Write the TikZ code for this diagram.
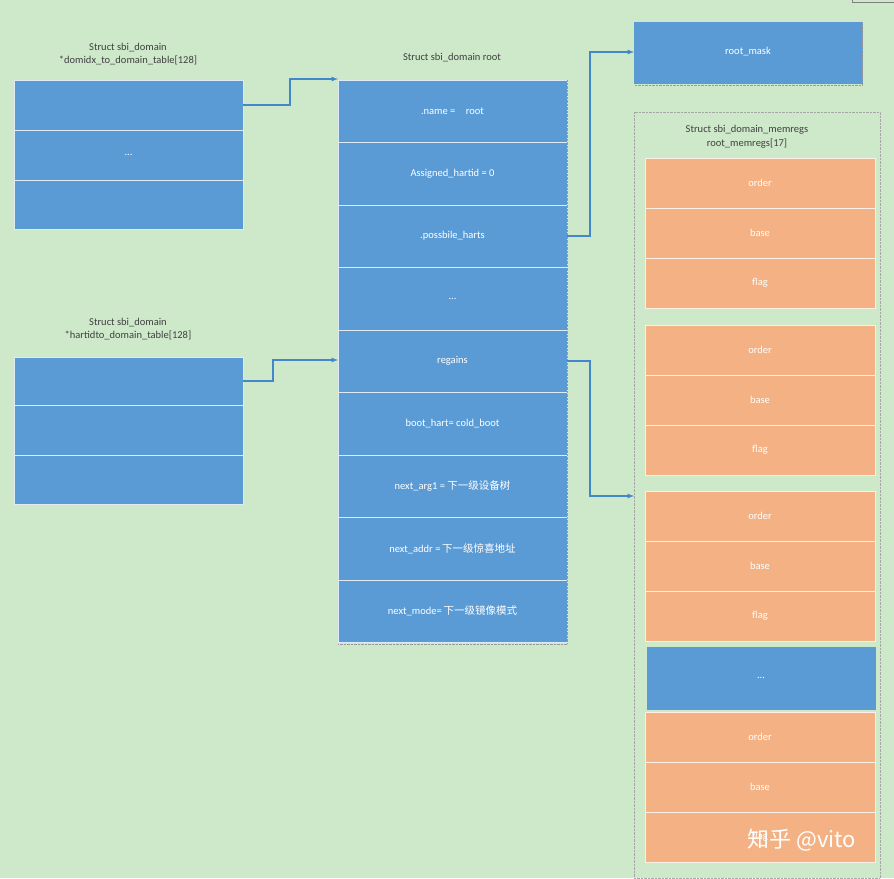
\documentclass[tikz,border=0pt]{standalone}
\usepackage{fontspec}
\setmainfont{Carlito}
\newfontfamily\cjk{Noto Sans CJK SC}
\definecolor{bg}{RGB}{206,232,202}
\definecolor{bl}{RGB}{91,155,213}
\definecolor{org}{RGB}{244,177,131}
\definecolor{arr}{RGB}{68,134,204}
\begin{document}
\begin{tikzpicture}[x=1pt,y=-1pt,
  cell/.style={draw=white!80!bl,line width=0.6pt,fill=bl},
  ocell/.style={draw=white!80!org,line width=0.6pt,fill=org},
  lbl/.style={text=white,font=\fontsize{10.5}{12}\selectfont},
  ttl/.style={text=black!75,font=\fontsize{10.5}{13.5}\selectfont,align=center},
  link/.style={draw=arr,line width=1.2pt,-latex}]
\fill[bg] (0,0) rectangle (894,878);
\useasboundingbox (0,0) rectangle (894,878);
% left table 1
\node[ttl] (t1) at (128,54) {Struct sbi\_domain\\*domidx\_to\_domain\_table[128]};
\foreach \a/\b/\t [count=\i] in {80/130/{},130/180/{...},180/229/{}}{
  \draw[cell] (14,\a) rectangle (243,\b);
  \node[lbl] (a\i) at (128.5,{(\a+\b)/2}) {\t};}
% left table 2
\node[ttl] (t2) at (128,329) {Struct sbi\_domain\\*hartidto\_domain\_table[128]};
\foreach \a/\b [count=\i] in {357/405,405/455,455/504}{
  \draw[cell] (14,\a) rectangle (243,\b);
  \node (b\i) at (128.5,{(\a+\b)/2}) {};}
% center
\node[ttl] (t3) at (452,58) {Struct sbi\_domain root};
\foreach \a/\b/\t [count=\i] in {80/142/{.name =\quad root},142/205/{Assigned\_hartid = 0},205/267/{.possbile\_harts},267/330/{...},330/392/{regains},392/455/{boot\_hart= cold\_boot},455/517/{next\_arg1 = {\cjk 下一级设备树}},517/580/{next\_addr =\,{\cjk 下一级惊喜地址}},580/642/{next\_mode=\,{\cjk 下一级镜像模式}}}{
  \draw[cell] (338,\a) rectangle (567,\b);
  \node[lbl] (c\i) at (452.5,{(\a+\b)/2}) {\t};}
\draw[black!40,densely dotted] (567,80) -- (567,644) -- (338,644);
% root mask
\draw[cell,draw=bl] (634,22) rectangle (862,83);
\node[lbl] (rm) at (748,52) {root\_mask};
\draw[black!40,densely dotted] (862,22) -- (862,85) -- (634,85);
\draw[black!50] (852,0) -- (852,2) -- (894,2);
% memregs
\draw[black!35,densely dotted] (634,112) rectangle (880,878);
\node[ttl] (t4) at (747,137) {Struct sbi\_domain\_memregs\\root\_memregs[17]};
\foreach \g/\y in {1/158,2/325,3/491,4/712}{
  \foreach \t [count=\k] in {order,base,flag}{
    \draw[ocell] (645,{\y+50*(\k-1)}) rectangle (875,{\y+50*\k});
    \node[lbl] (m\g\k) at (760,{\y+50*(\k-1)+25}) {\t};}}
\draw[cell,draw=bl] (647,647) rectangle (875,709);
\node[lbl] (md) at (761,678) {...};
% arrows
\coordinate (e1) at (338,79);
\coordinate (e2) at (338,360);
\coordinate (e3) at (634,52);
\coordinate (e4) at (634,496);
\draw[link] (243,105) -- (290,105) -- (290,79) -- (e1);
\draw[link] (243,381) -- (273,381) -- (273,360) -- (e2);
\draw[link] (567,236) -- (590,236) -- (590,52) -- (e3);
\draw[link] (567,361) -- (590,361) -- (590,496) -- (e4);
\node[text=white,font=\cjk\fontsize{22}{24}\selectfont] (wm) at (802,840) {知乎 @vito};
\end{tikzpicture}
\end{document}
